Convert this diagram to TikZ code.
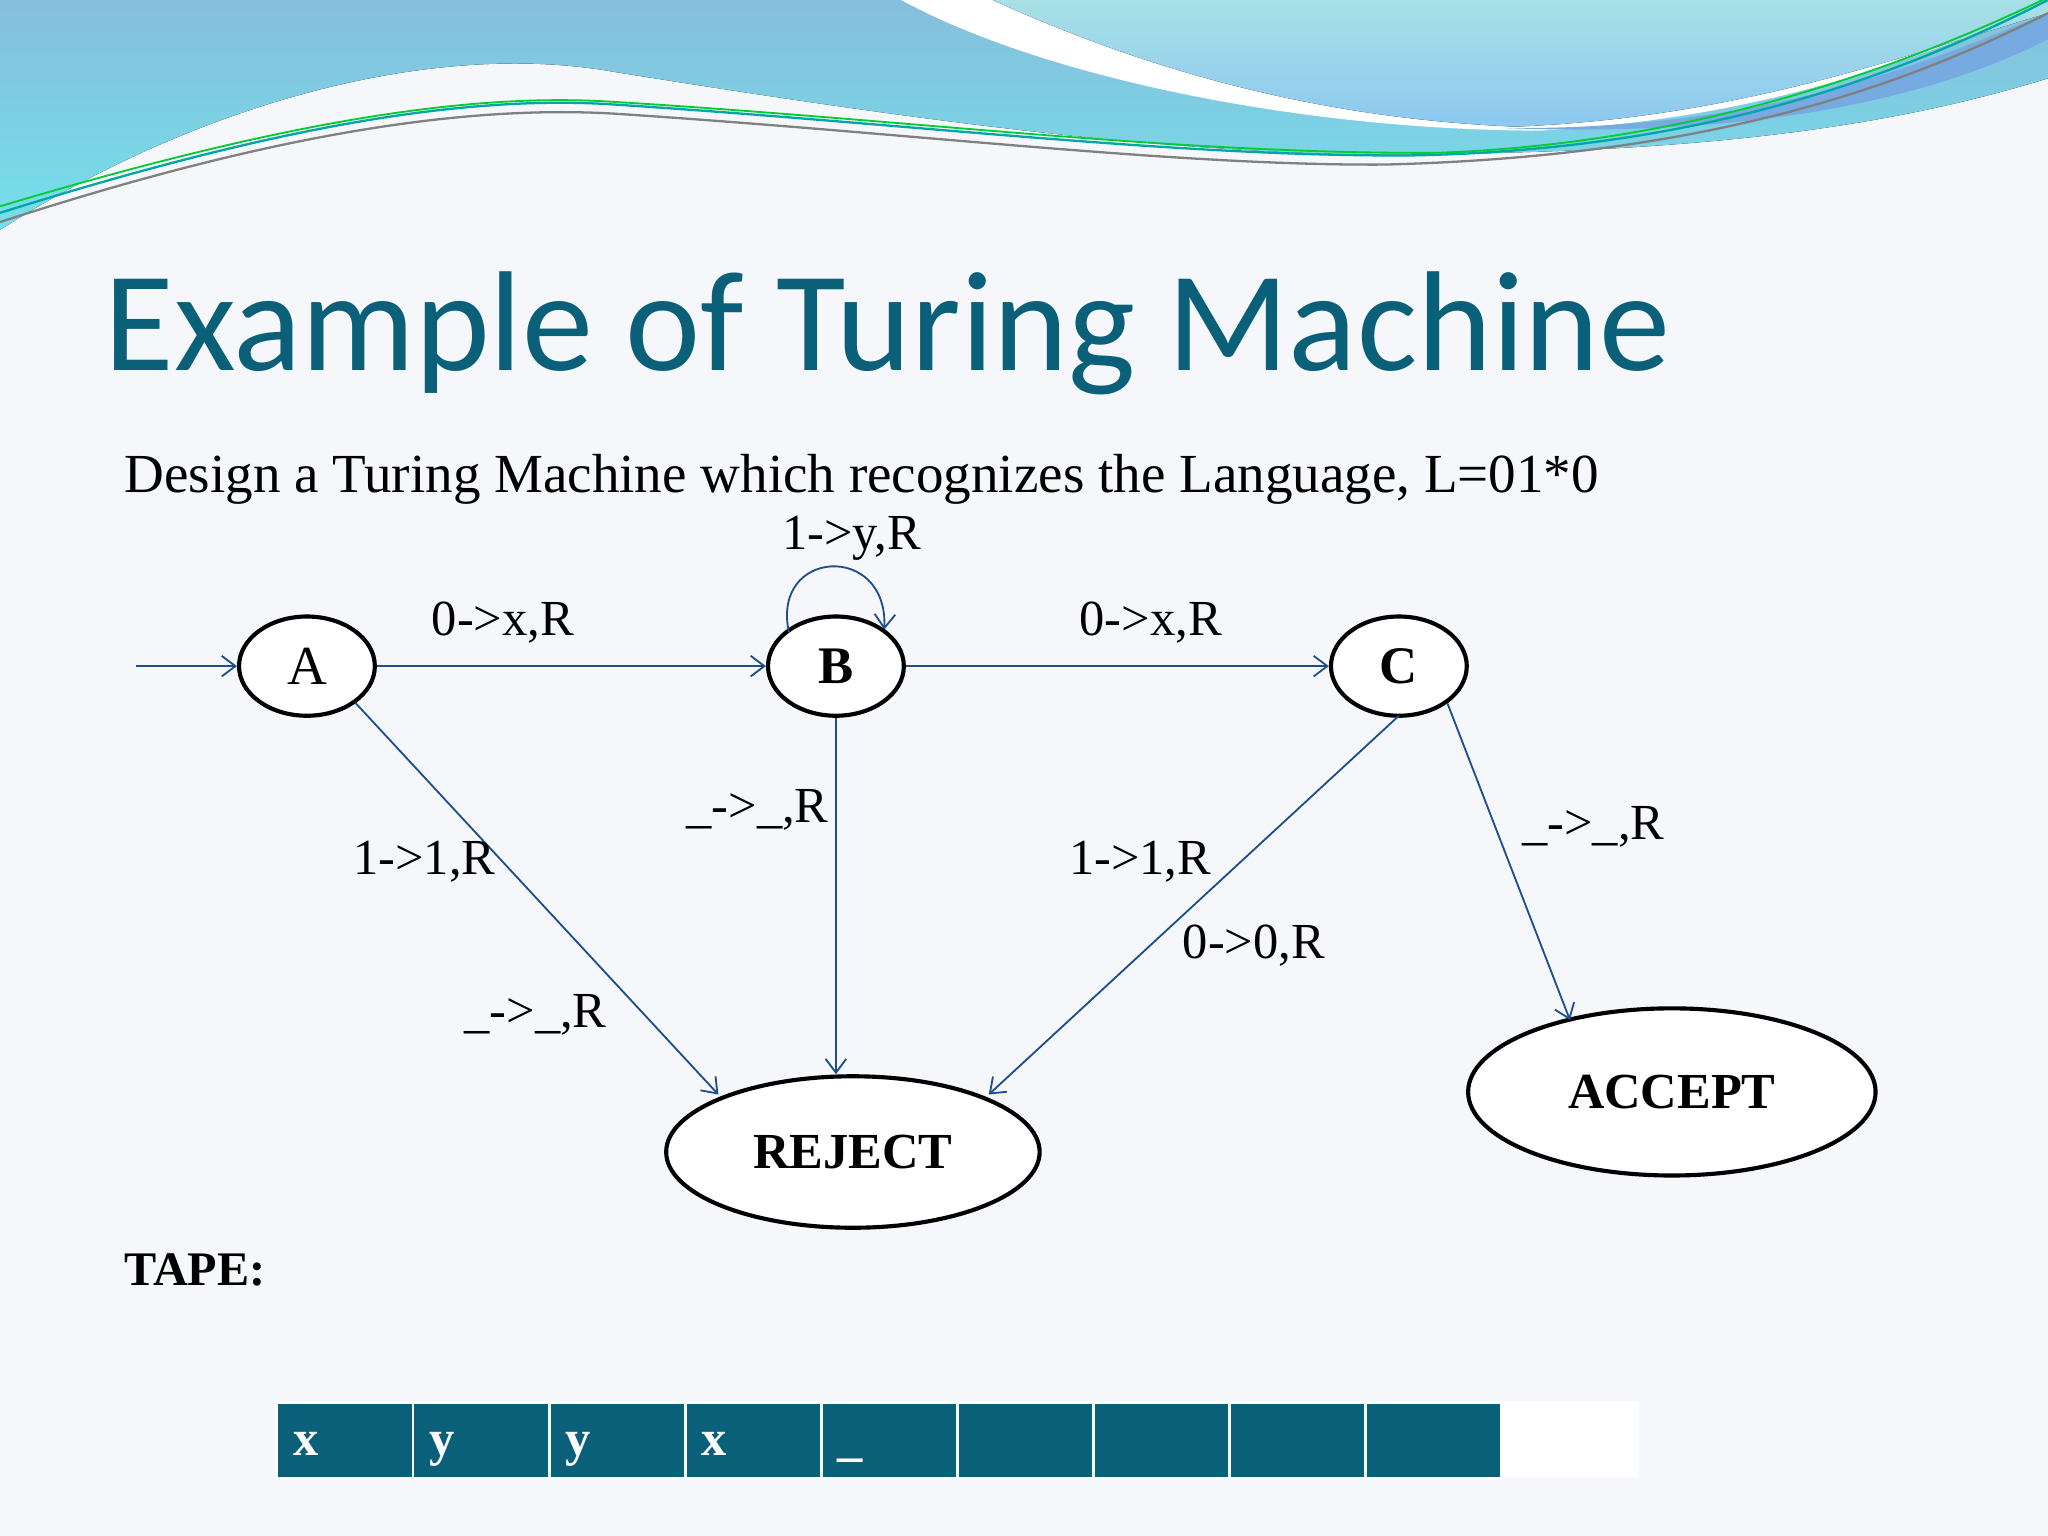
\documentclass[tikz,border=0pt]{standalone}
\usepackage{fontspec}
\setmainfont{Liberation Serif}
\newfontfamily\titlefont{Carlito}
\usetikzlibrary{shapes.geometric,arrows.meta}
\definecolor{teal1}{HTML}{0B6079}
\definecolor{arr}{HTML}{1F4E8C}
\definecolor{bg}{HTML}{F6F7FA}
\definecolor{w1}{HTML}{86BEDC}
\definecolor{w2}{HTML}{74E0EA}
\definecolor{w3}{HTML}{A8E0E6}
\definecolor{w4}{HTML}{8CC8F0}
\begin{document}
\begin{tikzpicture}[x=0.02cm,y=-0.02cm,
  st/.style={draw=black,line width=1.8pt,ellipse,fill=white,inner sep=0pt,font=\fontsize{24}{28}\selectfont},
  edge/.style={draw=arr,line width=0.8pt,-{Straight Barb[length=6pt,width=9pt]}},
  lab/.style={font=\fontsize{22}{26}\selectfont,inner sep=1pt},
  cell/.style={fill=teal1,draw=white,line width=1.2pt,minimum width=104.2*0.02cm,minimum height=1.16cm,inner sep=0pt,anchor=north west}]
\useasboundingbox (0,0) rectangle (1568,1176);
\fill[bg] (0,0) rectangle (1568,1176);
% waves
\fill[top color=w1,bottom color=w2] (0,0) -- (0,176) .. controls (150,80) and (330,30) .. (470,55) .. controls (750,100) and (950,125) .. (1150,117) .. controls (1350,112) and (1470,90) .. (1568,60) -- (1568,0) -- cycle;
\fill[white] (690,0) .. controls (800,60) and (1000,100) .. (1180,100) .. controls (1350,90) and (1450,50) .. (1568,5) -- (1568,0) -- cycle;
\fill[top color=w3,bottom color=w4] (760,0) .. controls (870,50) and (1000,90) .. (1160,97) .. controls (1330,90) and (1450,45) .. (1568,10) -- (1568,0) -- cycle;
\fill[cyan!60!blue!55!white] (1150,98) .. controls (1350,100) and (1470,50) .. (1568,10) -- (1568,30) .. controls (1470,80) and (1330,105) .. (1150,98) -- cycle;
\draw[teal!70!cyan,line width=1pt] (0,163) .. controls (200,100) and (350,72) .. (470,80) .. controls (700,95) and (900,120) .. (1080,119) .. controls (1300,115) and (1450,60) .. (1568,0);
\draw[gray,line width=1pt] (0,170) .. controls (200,105) and (350,80) .. (470,87) .. controls (700,102) and (900,127) .. (1060,126) .. controls (1300,120) and (1450,70) .. (1568,10);
\draw[green!60!teal,line width=0.8pt] (0,158) .. controls (200,98) and (350,70) .. (470,78) .. controls (700,92) and (900,118) .. (1100,117) .. controls (1300,110) and (1460,50) .. (1568,-2);
% title
\node[anchor=west,text=teal1,font=\titlefont\fontsize{62}{70}\selectfont,inner sep=0pt] (title) at (80,255) {Example of Turing Machine};
\node[anchor=west,font=\fontsize{24}{28}\selectfont,inner sep=0pt] (design) at (95,367) {Design a Turing Machine which recognizes the Language, L=01*0};
% states
\node[st,minimum width=2.08cm,minimum height=1.52cm] (A) at (235,510) {A};
\node[st,minimum width=2.08cm,minimum height=1.52cm,font=\bfseries\fontsize{23}{28}\selectfont] (B) at (640,510) {B};
\node[st,minimum width=2.08cm,minimum height=1.52cm,font=\bfseries\fontsize{23}{28}\selectfont] (C) at (1071,510) {C};
\node[st,minimum width=5.72cm,minimum height=2.32cm,font=\bfseries\fontsize{22}{28}\selectfont] (R) at (653,882) {REJECT};
\node[st,minimum width=6.24cm,minimum height=2.56cm,font=\bfseries\fontsize{22}{28}\selectfont] (Acc) at (1280,836) {ACCEPT};
\coordinate (start) at (104,510);
\coordinate (a1) at (272,538);
\coordinate (r1) at (550,838);
\coordinate (c1) at (1071,548);
\coordinate (r2) at (757,838);
\coordinate (c2) at (1108,538);
\coordinate (ac1) at (1202,781);
\coordinate (b1) at (604,484);
\coordinate (b2) at (677,482);
% edges
\draw[edge] (start) -- (A);
\draw[edge] (A) -- (B);
\draw[edge] (B) -- (C);
\draw[edge] (a1) -- (r1);
\draw[edge] (B) -- (R.north -| B);
\draw[edge] (c1) -- (r2);
\draw[edge] (c2) -- (ac1);
\draw[edge] (b1) .. controls (590,420) and (680,415) .. (b2);
% labels
\node[lab] (l1) at (385,477) {0->x,R};
\node[lab] (l2) at (881,477) {0->x,R};
\node[lab] (l3) at (652,412) {1->y,R};
\node[lab] (l4) at (580,620) {\_->\_,R};
\node[lab] (l5) at (325,660) {1->1,R};
\node[lab] (l6) at (410,777) {\_->\_,R};
\node[lab] (l7) at (873,660) {1->1,R};
\node[lab] (l8) at (960,724) {0->0,R};
\node[lab] (l9) at (1220,633) {\_->\_,R};
\node[anchor=west,font=\bfseries\fontsize{21}{26}\selectfont,inner sep=0pt] (tape) at (95,972) {TAPE:};
% tape
\fill[white] (1149,1073) rectangle (1255,1131);
\foreach \i/\t in {0/x,1/y,2/y,3/x,4/\_,5/,6/,7/,8/}{
  \node[cell] (c\i) at (211+\i*104.2,1073) {};
  \node[anchor=base west,text=white,font=\bfseries\fontsize{22}{26}\selectfont,inner sep=0pt] (t\i) at (224+\i*104.2,1114) {\t};
}
\end{tikzpicture}
\end{document}
